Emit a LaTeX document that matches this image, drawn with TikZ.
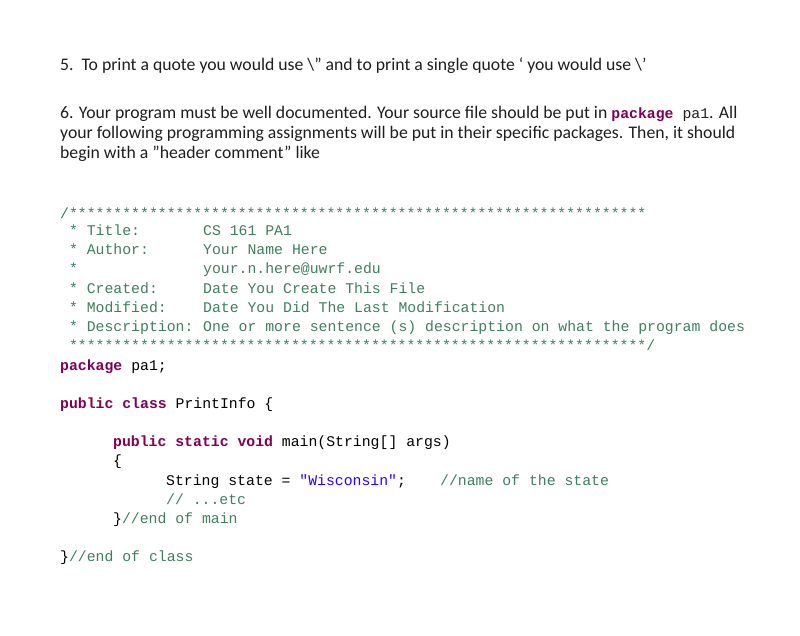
\documentclass[tikz,border=0pt]{standalone}
\usepackage{fontspec}
\setmainfont{Carlito}
\newfontfamily\cf{Liberation Mono}
\definecolor{cmt}{RGB}{63,127,95}
\definecolor{kw}{RGB}{127,0,85}
\definecolor{str}{RGB}{42,0,255}
\definecolor{txt}{RGB}{30,30,30}
\tikzset{
  txtline/.style={anchor=base west,inner sep=0pt,font=\fontsize{17.7}{20}\selectfont,text=txt},
  codeline/.style={anchor=base west,inner sep=0pt,font=\cf\fontsize{14.8}{18}\selectfont,text=black},
  cmtline/.style={codeline,text=cmt}
}
\newcommand{\kwd}[1]{\textcolor{kw}{\bfseries #1}}
\begin{document}
\begin{tikzpicture}[x=1pt,y=-1pt]
\useasboundingbox[fill=white] (0,0) rectangle (800,635);
\node[txtline] (l1) at (60,70) {5.\ \ To print a quote you would use \textbackslash” and to print a single quote ‘ you would use \textbackslash’};
\node[txtline] (l2) at (60,118) {6. Your program must be well documented. Your source file should be put in {\cf\fontsize{14.8}{18}\selectfont\kwd{package} pa1}. All};
\node[txtline] (l3) at (60,138) {your following programming assignments will be put in their specific packages. Then, it should};
\node[txtline] (l4) at (60,158) {begin with a \symbol{34}header comment\symbol{34} like};
\node[cmtline] (s1) at (60,218) {/*****************************************************************};
\node[cmtline] (t1) at (60,235) {\ * Title:};
\node[cmtline] (t2) at (60,254) {\ * Author:};
\node[cmtline] (t3) at (60,273) {\ *};
\node[cmtline] (t4) at (60,293) {\ * Created:};
\node[cmtline] (t5) at (60,312) {\ * Modified:};
\node[cmtline] (t6) at (60,331) {\ * Description:};
\node[cmtline] (v1) at (203,235) {CS 161 PA1};
\node[cmtline] (v2) at (203,254) {Your Name Here};
\node[cmtline] (v3) at (203,273) {your.n.here@uwrf.edu};
\node[cmtline] (v4) at (203,293) {Date You Create This File};
\node[cmtline] (v5) at (203,312) {Date You Did The Last Modification};
\node[cmtline] (v6) at (203,331) {One or more sentence (s) description on what the program does};
\node[cmtline] (s2) at (60,350) {\ *****************************************************************/};
\node[codeline] (p) at (60,370) {\kwd{package} pa1;};
\node[codeline] (c) at (60,408) {\kwd{public class} PrintInfo \{};
\node[codeline] (m) at (113,446) {\kwd{public static void} main(String[] args)};
\node[codeline] (b1) at (113,465) {\{};
\node[codeline] (s) at (166,485) {String state = \textcolor{str}{"Wisconsin"};};
\node[cmtline] (sc) at (440,485) {//name of the state};
\node[cmtline] (e) at (166,504) {// ...etc};
\node[codeline] (b2) at (113,523) {\}\textcolor{cmt}{//end of main}};
\node[codeline] (b3) at (60,561) {\}\textcolor{cmt}{//end of class}};
\end{tikzpicture}
\end{document}
